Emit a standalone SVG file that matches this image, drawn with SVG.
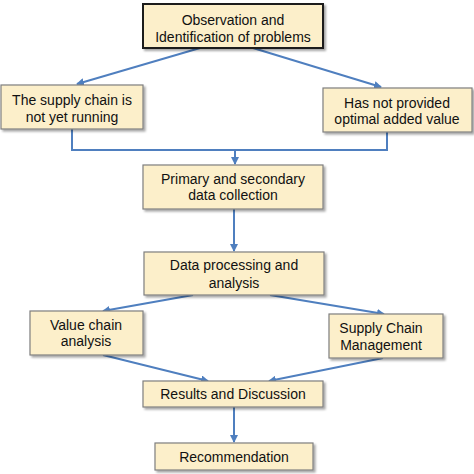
<svg xmlns="http://www.w3.org/2000/svg" width="474" height="474" viewBox="0 0 474 474">
<defs>
<marker id="ah" markerWidth="8" markerHeight="8" refX="7" refY="4" orient="auto" markerUnits="userSpaceOnUse"><path d="M0,0 L8,4 L0,8 Z" fill="#4F7FBF"/></marker>
<filter id="sh" x="-10%" y="-10%" width="130%" height="140%"><feDropShadow dx="2" dy="2" stdDeviation="1.2" flood-color="#000" flood-opacity="0.35"/></filter>
</defs>
<style>
.box{fill:#FCEFCA;stroke:#7F7F7F;stroke-width:1.2;filter:url(#sh)}
.top{stroke:#1a1a1a;stroke-width:2}
text{font-family:"Liberation Sans",Arial,sans-serif;font-size:14px;fill:#111;text-anchor:middle}
.c{fill:none;stroke:#4F7FBF;stroke-width:2}
</style>
<rect width="474" height="474" fill="#fff"/>
<g id="connectors">
<line class="c" x1="200" y1="48" x2="77" y2="84" marker-end="url(#ah)"/>
<line class="c" x1="253" y1="48" x2="381" y2="87" marker-end="url(#ah)"/>
<polyline class="c" points="72,129 72,150 387,150 387,132"/>
<line class="c" x1="235" y1="150" x2="235" y2="164" marker-end="url(#ah)"/>
<line class="c" x1="234" y1="209" x2="234" y2="251" marker-end="url(#ah)"/>
<line class="c" x1="193" y1="295" x2="103" y2="311" marker-end="url(#ah)"/>
<line class="c" x1="270" y1="295" x2="384" y2="314" marker-end="url(#ah)"/>
<line class="c" x1="103" y1="355" x2="208" y2="381" marker-end="url(#ah)"/>
<line class="c" x1="383" y1="358" x2="269" y2="381" marker-end="url(#ah)"/>
<line class="c" x1="234" y1="407" x2="234" y2="442" marker-end="url(#ah)"/>
</g>
<g id="n1"><rect class="box top" x="143" y="4" width="180" height="44"/><text x="233" y="25">Observation and</text><text x="233" y="42">Identification of problems</text></g>
<g id="n2"><rect class="box" x="1" y="85" width="142" height="44"/><text x="72" y="105">The supply chain is</text><text x="72" y="122">not yet running</text></g>
<g id="n3"><rect class="box" x="323" y="88" width="149" height="44"/><text x="397" y="108">Has not provided</text><text x="397" y="124">optimal added value</text></g>
<g id="n4"><rect class="box" x="143" y="165" width="180" height="44"/><text x="233" y="184">Primary and secondary</text><text x="233" y="200">data collection</text></g>
<g id="n5"><rect class="box" x="144" y="252" width="180" height="43"/><text x="234" y="270">Data processing and</text><text x="234" y="288">analysis</text></g>
<g id="n6"><rect class="box" x="30" y="311" width="113" height="44"/><text x="86" y="330">Value chain</text><text x="86" y="346">analysis</text></g>
<g id="n7"><rect class="box" x="329" y="314" width="114" height="44"/><text x="381" y="333">Supply Chain</text><text x="381" y="350">Management</text></g>
<g id="n8"><rect class="box" x="143" y="381" width="180" height="26"/><text x="233" y="399">Results and Discussion</text></g>
<g id="n9"><rect class="box" x="155" y="443" width="158" height="27"/><text x="234" y="462">Recommendation</text></g>
</svg>
